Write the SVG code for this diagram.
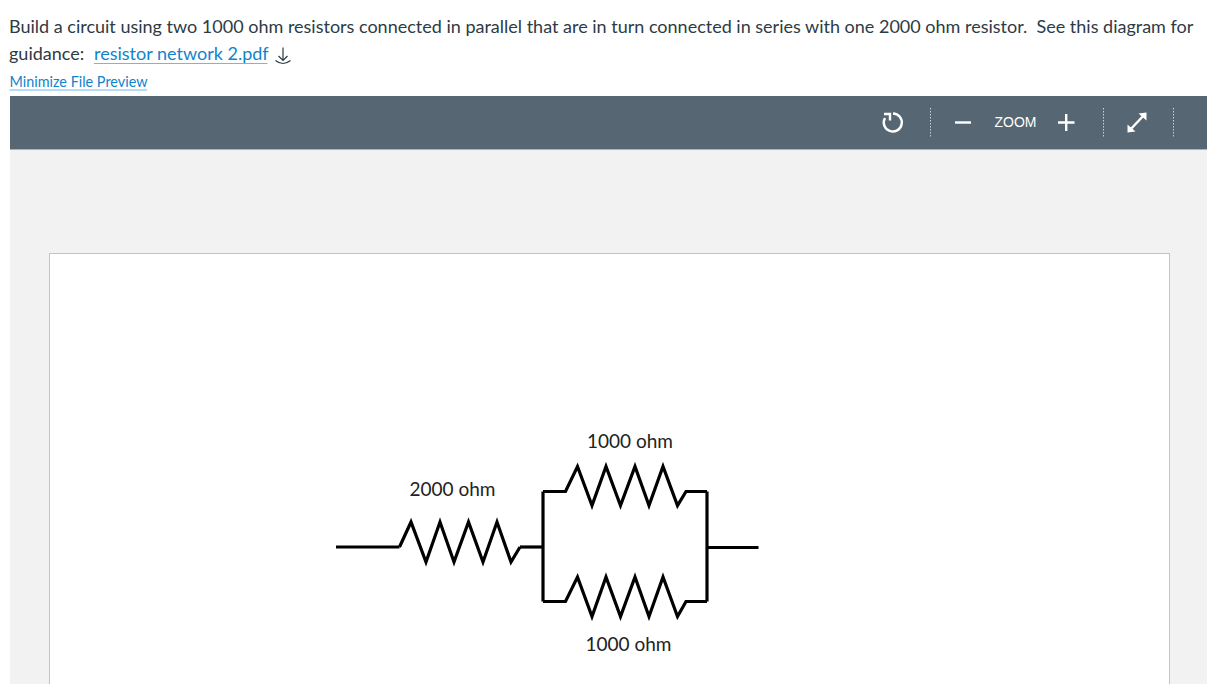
<svg xmlns="http://www.w3.org/2000/svg" width="1231" height="688" viewBox="0 0 1231 688">
<style>
text{font-family:Lato,"Noto Sans",sans-serif;white-space:pre}
.body{font-size:18px;fill:#2d3b45}
.link{fill:#1184cc}
.lab{font-size:19px;fill:#222}
.wire{fill:none;stroke:#000;stroke-width:3.2;stroke-linejoin:miter}
.ic{fill:none;stroke:#fff;stroke-width:2.4}
.sep{stroke:#c9d0d5;stroke-width:1;stroke-dasharray:1.500 1.500}
</style>
<rect width="1231" height="688" fill="#fff"/>
<g id="header">
<text class="body" x="9" y="33">Build a circuit using two 1000 ohm resistors connected in parallel that are in turn connected in series with one 2000 ohm resistor.  See this diagram for</text>
<text class="body" x="9" y="60">guidance:</text>
<text class="body link" x="94" y="60">resistor network 2.pdf</text>
<path d="M94 63.500H267.500" stroke="#6db9e8" stroke-width="1" fill="none"/>
<path d="M283 47.500V60M278.500 56L283 60.500L287.500 56M275.500 60.500Q283 66.500 290.500 60.500" fill="none" stroke="#2d3b45" stroke-width="1.200"/>
<text class="link" x="9.500" y="87" font-size="14.400px">Minimize File Preview</text>
<path d="M9.500 90H147" stroke="#6db9e8" stroke-width="1" fill="none"/>
</g>
<g id="viewer">
<rect x="10" y="150" width="1197" height="534" fill="#f2f2f2"/>
<rect x="10" y="96" width="1197" height="53.500" fill="#566672"/>
<path d="M893 113.500A9 9 0 1 1 885 118" class="ic"/>
<path d="M884 114H890V120.500" class="ic" stroke-width="2.200"/>
<path class="sep" d="M930.500 108V137M1103.500 108V137M1173.500 108V137"/>
<path d="M955 122.500H971" class="ic"/>
<text x="1015.500" y="127" font-size="14px" fill="#fff" text-anchor="middle" style="font-family:'Liberation Sans',sans-serif">ZOOM</text>
<path d="M1058 122.500H1074.500M1066.200 114V131" class="ic"/>
<path d="M1129 131L1145.500 113.500" class="ic" stroke-width="2"/>
<path d="M1146.500 112.500V120.500L1138.500 113.500ZM1127.500 132.500V124.500L1135.500 131.500Z" fill="#fff"/>
</g>
<rect id="page" x="49.500" y="253.500" width="1120" height="431" fill="#fff" stroke="#c4c4c4"/>
<rect x="0" y="684" width="1231" height="4" fill="#fff"/>
<g id="connectors">
<path class="wire" d="M336 547H399.500"/>
<path class="wire" d="M520 547H543"/>
<path class="wire" d="M543 491.500V601.500"/>
<path class="wire" d="M707 491.500V601.500"/>
<path class="wire" d="M707 547.500H758.500"/>
</g>
<g id="r2000">
<path class="wire" d="M399.500 547L411 522L426 562L440 522L454 562L468.500 522L483 562L497 522L511 562L520 547"/>
<text class="lab" x="452.500" y="495.500" text-anchor="middle">2000 ohm</text>
</g>
<g id="r1000-top">
<path class="wire" d="M543 491.500H565.500L577.500 466.500L592 505.500L606 466.500L620.500 505.500L635 466.500L649 505.500L663 466.500L677.500 505.500L686 491.500H707"/>
<text class="lab" x="630" y="447.500" text-anchor="middle">1000 ohm</text>
</g>
<g id="r1000-bottom">
<path class="wire" d="M543 601.500H565.500L577.500 577L592 616.500L606 577L620.500 616.500L635 577L649 616.500L663 577L677.500 616.500L686 601.500H707"/>
<text class="lab" x="628.500" y="650.500" text-anchor="middle">1000 ohm</text>
</g>
</svg>
